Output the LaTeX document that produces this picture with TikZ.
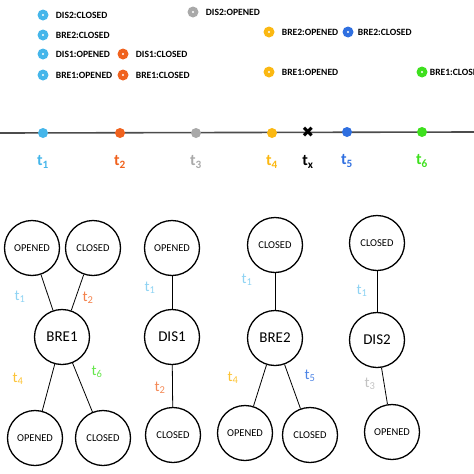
\documentclass[tikz,border=0pt]{standalone}
\usepackage{fontspec}
\setmainfont{Carlito}
\newfontfamily\symfont{DejaVu Sans}
\usetikzlibrary{positioning}
\definecolor{cone}{HTML}{45B6EA}
\definecolor{ctwo}{HTML}{F0621E}
\definecolor{cthree}{HTML}{A9A9A9}
\definecolor{cfour}{HTML}{FBB812}
\definecolor{cfive}{HTML}{2F6FE0}
\definecolor{csix}{HTML}{3EE01E}
\begin{document}
\begin{tikzpicture}[x=1pt, y=-1pt,
  ldot/.style={circle, fill=#1, minimum size=11pt, inner sep=0pt, path picture={\fill[white] (path picture bounding box.center) circle (1.2pt);}},
  legtext/.style={font=\fontsize{9.6}{11}\selectfont\bfseries, inner sep=0pt, anchor=west},
  tdot/.style={circle, fill=#1, minimum size=10pt, inner sep=0pt},
  tlab/.style={text=#1, font=\fontsize{16}{17}\selectfont\bfseries},
  state/.style={circle, draw, line width=1.3pt, minimum size=55pt, inner sep=0pt, font=\fontsize{10.5}{12}\selectfont},
  comp/.style={state, font=\fontsize{15}{16}\selectfont},
  elab/.style={text=#1, font=\fontsize{15}{16}\selectfont}]
\useasboundingbox (0,0) rectangle (474,474);
% legend
\node[ldot=cone] (l1) at (43,15) {};
\node[legtext, right=7pt of l1] {DIS2:CLOSED};
\node[ldot=cone] (l2) at (43,35) {};
\node[legtext, right=7pt of l2] {BRE2:CLOSED};
\node[ldot=cone] (l3) at (43,54) {};
\node[legtext, right=7pt of l3] {DIS1:OPENED};
\node[ldot=cone] (l4) at (43,75) {};
\node[legtext, right=7pt of l4] {BRE1:OPENED};
\node[ldot=ctwo] (l5) at (123,54) {};
\node[legtext, right=7pt of l5] {DIS1:CLOSED};
\node[ldot=ctwo] (l6) at (123,75) {};
\node[legtext, right=7pt of l6] {BRE1:CLOSED};
\node[ldot=cthree] (l7) at (193,12) {};
\node[legtext, right=7pt of l7] {DIS2:OPENED};
\node[ldot=cfour] (l8) at (269,32) {};
\node[legtext, right=7pt of l8] {BRE2:OPENED};
\node[ldot=cfive] (l9) at (348,32) {};
\node[legtext, right=4pt of l9] {BRE2:CLOSED};
\node[ldot=cfour] (l10) at (269,72) {};
\node[legtext, right=7pt of l10] {BRE1:OPENED};
\node[ldot=csix] (l11) at (422,72) {};
\node[legtext, right=2pt of l11] {BRE1:CLOSED};
% timeline
\coordinate (tl) at (0,133);
\coordinate (tr) at (474,132);
\draw[line width=1.6pt, gray!60!black] (tl) -- (tr);
\node[tdot=cone] (t1) at (43,133) {};
\node[tdot=ctwo] (t2) at (120,133) {};
\node[tdot=cthree] (t3) at (196,133) {};
\node[tdot=cfour] (t4) at (272,133) {};
\node[tdot=cfive] (t5) at (347,132) {};
\node[tdot=csix] (t6) at (422,132) {};
\node[inner sep=0pt, font=\symfont\fontsize{15}{15}\selectfont] (tx) at (308,132) {✖};
\node[tlab=cone, below=14pt of t1] {t\textsubscript{1}};
\node[tlab=ctwo, below=14pt of t2] {t\textsubscript{2}};
\node[tlab=cthree, below=14pt of t3] {t\textsubscript{3}};
\node[tlab=cfour, below=14pt of t4] {t\textsubscript{4}};
\node[tlab=black, below=20pt of tx.center] {t\textsubscript{x}};
\node[tlab=cfive, below=14pt of t5] {t\textsubscript{5}};
\node[tlab=csix, below=14pt of t6] {t\textsubscript{6}};
% state trees
\node[comp] (bre1) at (62,337) {BRE1};
\node[state] (bre1a) at (32,248) {OPENED};
\node[state] (bre1b) at (93,248) {CLOSED};
\node[state] (bre1c) at (35,438) {OPENED};
\node[state] (bre1d) at (103,438) {CLOSED};
\node[comp] (dis1) at (172,337) {DIS1};
\node[state] (dis1a) at (172,248) {OPENED};
\node[state] (dis1b) at (173,435) {CLOSED};
\node[comp] (bre2) at (275,338) {BRE2};
\node[state] (bre2a) at (275,245) {CLOSED};
\node[state] (bre2b) at (245,433) {OPENED};
\node[state] (bre2c) at (310,435) {CLOSED};
\node[comp] (dis2) at (377,340) {DIS2};
\node[state] (dis2a) at (377,243) {CLOSED};
\node[state] (dis2b) at (392,432) {OPENED};
\foreach \a/\b in {bre1a/bre1, bre1b/bre1, bre1/bre1c, bre1/bre1d, dis1a/dis1, dis1/dis1b, bre2a/bre2, bre2/bre2b, bre2/bre2c, dis2a/dis2, dis2/dis2b}
  \draw[line width=0.8pt] (\a) -- (\b);
% edge labels
\node[elab=cone!60] (e1) at (20,297) {t\textsubscript{1}};
\node[elab=ctwo!80] (e2) at (88,298) {t\textsubscript{2}};
\node[elab=cfour!85] (e3) at (18,379) {t\textsubscript{4}};
\node[elab=csix!80] (e4) at (97,372) {t\textsubscript{6}};
\node[elab=cone!60] (e5) at (150,288) {t\textsubscript{1}};
\node[elab=ctwo!75] (e6) at (160,388) {t\textsubscript{2}};
\node[elab=cone!60] (e7) at (247,280) {t\textsubscript{1}};
\node[elab=cfour!85] (e8) at (233,378) {t\textsubscript{4}};
\node[elab=cfive!85] (e9) at (310,376) {t\textsubscript{5}};
\node[elab=cone!60] (e10) at (362,291) {t\textsubscript{1}};
\node[elab=cthree!70] (e11) at (370,384) {t\textsubscript{3}};
\end{tikzpicture}
\end{document}
